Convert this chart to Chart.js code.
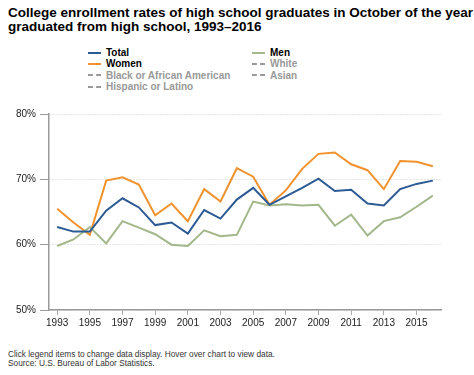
<!DOCTYPE html>
<html>
<head>
<meta charset="utf-8">
<script src="https://cdn.jsdelivr.net/npm/chart.js@4.4.1/dist/chart.umd.min.js"></script>
<style>
  body { margin: 0; width: 474px; height: 375px; overflow: hidden; background: #fff; position: relative;
         font-family: "Liberation Sans", Arial, sans-serif; }
  #title { position: absolute; left: 8px; top: 6px; width: 466px; overflow: hidden; white-space: nowrap;
           font-weight: bold; font-size: 13.5px; line-height: 14px; color: #000; }
  #legend { position: absolute; left: 88px; top: 47px; display: grid; grid-template-columns: 164px 120px;
            font-size: 10px; font-weight: bold; line-height: 11.3px; color: #000; }
  #legend .item { display: flex; align-items: center; white-space: nowrap; }
  #legend .swatch { width: 13px; height: 0; margin-right: 5px; border-top: 2px solid; }
  #legend .off { color: #999; }
  #legend .off .swatch { border-top: 2px dashed #999; }
  #wrap { position: absolute; left: 0; top: 100px; width: 474px; height: 240px; }
  #footer { position: absolute; left: 8px; top: 350px; font-size: 8.3px; line-height: 9px; color: #333; }
</style>
</head>
<body>
<div id="title">College enrollment rates of high school graduates in October of the year they<br>graduated from high school, 1993–2016</div>
<div id="legend"></div>
<div id="wrap"><canvas id="chart"></canvas></div>
<div id="footer">Click legend items to change data display. Hover over chart to view data.<br>Source: U.S. Bureau of Labor Statistics.</div>
<script>
var years = ['1993', '1994', '1995', '1996', '1997', '1998', '1999', '2000', '2001', '2002', '2003', '2004',
             '2005', '2006', '2007', '2008', '2009', '2010', '2011', '2012', '2013', '2014', '2015', '2016'];
var total = [62.7, 62.0, 62.0, 65.2, 67.1, 65.7, 63.0, 63.4, 61.7, 65.3, 64.0, 66.9,
             68.7, 66.1, 67.4, 68.7, 70.1, 68.2, 68.4, 66.3, 66.0, 68.5, 69.3, 69.8];
var men = [59.8, 60.8, 62.7, 60.2, 63.6, 62.6, 61.6, 60.0, 59.8, 62.2, 61.3, 61.5,
           66.6, 66.0, 66.2, 66.0, 66.1, 62.9, 64.6, 61.4, 63.6, 64.2, 65.8, 67.5];
var women = [65.5, 63.4, 61.5, 69.8, 70.3, 69.2, 64.5, 66.3, 63.6, 68.5, 66.6, 71.7,
             70.4, 66.1, 68.3, 71.6, 73.9, 74.1, 72.3, 71.4, 68.5, 72.8, 72.7, 72.0];
// series that are switched off in the legend (no lines shown)
var hiddenSeries = ['White', 'Black or African American', 'Asian', 'Hispanic or Latino'];
var yTicks = [50, 60, 70, 80];

function line(label, data, color) {
    return { label: label, data: data, borderColor: color, backgroundColor: color,
             borderWidth: 2, pointRadius: 0, tension: 0, fill: false };
}

var datasets = [
    line('Total', total, '#2b5a94'),
    line('Men', men, '#a3b78b'),
    line('Women', women, '#f0922d')
];
hiddenSeries.forEach(function (name) {
    var ds = line(name, [], '#999');
    ds.hidden = true;
    datasets.push(ds);
});

var ctx = document.getElementById('chart').getContext('2d');
var chart = new Chart(ctx, {
    type: 'line',
    data: { labels: years, datasets: datasets },
    options: {
        responsive: true,
        maintainAspectRatio: false,
        animation: false,
        layout: { padding: { left: 0, right: 33, top: 14, bottom: 8 } },
        plugins: { legend: { display: false }, tooltip: { enabled: false } },
        scales: {
            x: {
                offset: true,
                afterFit: function (s) { s.height = 22; },
                grid: { drawOnChartArea: false, drawTicks: true, tickLength: 5, color: '#aaa' },
                border: { color: '#999', width: 1.5 },
                ticks: {
                    autoSkip: false, maxRotation: 0, padding: 2, color: '#222',
                    font: { family: '"Liberation Sans", Arial, sans-serif', size: 10 },
                    callback: function (v, i) { return i % 2 === 0 ? years[i] : null; }
                }
            },
            y: {
                min: yTicks[0], max: yTicks[yTicks.length - 1],
                afterFit: function (s) { s.width = 49; },
                afterBuildTicks: function (s) { s.ticks = yTicks.map(function (v) { return { value: v }; }); },
                grid: { color: '#ccc', lineWidth: 1, tickLength: 9, tickColor: '#999', tickBorderDash: [] },
                border: { color: '#999', width: 1.5, dash: [1, 2] },
                ticks: {
                    padding: 4, color: '#222',
                    font: { family: '"Liberation Sans", Arial, sans-serif', size: 10 },
                    callback: function (v) { return v + '%'; }
                }
            }
        }
    }
});

// legend in two columns, filled row by row like the original
var legend = document.getElementById('legend');
chart.data.datasets.forEach(function (ds) {
    var item = document.createElement('div');
    item.className = 'item' + (ds.hidden ? ' off' : '');
    var sw = document.createElement('span');
    sw.className = 'swatch';
    if (!ds.hidden) sw.style.borderTopColor = ds.borderColor;
    item.appendChild(sw);
    item.appendChild(document.createTextNode(ds.label));
    legend.appendChild(item);
});
</script>
</body>
</html>
